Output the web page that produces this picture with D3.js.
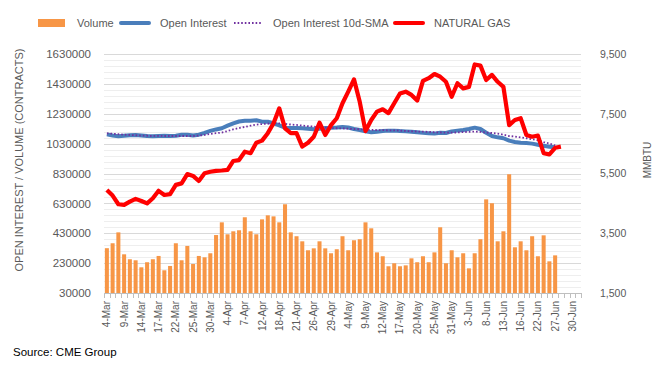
<!DOCTYPE html>
<html>
<head>
<meta charset="utf-8">
<script src="https://cdn.jsdelivr.net/npm/d3@7"></script>
<style>
  body { margin: 0; background: #fff; }
  svg { display: block; font-family: "Liberation Sans", Arial, sans-serif; }
</style>
</head>
<body>
<script>
// trading days, 4-Mar to 1-Jul
var dates = [
  "4-Mar","7-Mar","8-Mar","9-Mar","10-Mar","11-Mar","14-Mar","15-Mar","16-Mar","17-Mar",
  "18-Mar","21-Mar","22-Mar","23-Mar","24-Mar","25-Mar","28-Mar","29-Mar","30-Mar","31-Mar",
  "1-Apr","4-Apr","5-Apr","6-Apr","7-Apr","8-Apr","11-Apr","12-Apr","13-Apr","14-Apr",
  "18-Apr","19-Apr","20-Apr","21-Apr","22-Apr","25-Apr","26-Apr","27-Apr","28-Apr","29-Apr",
  "2-May","3-May","4-May","5-May","6-May","9-May","10-May","11-May","12-May","13-May",
  "16-May","17-May","18-May","19-May","20-May","23-May","24-May","25-May","26-May","27-May",
  "31-May","1-Jun","2-Jun","3-Jun","6-Jun","7-Jun","8-Jun","9-Jun","10-Jun","13-Jun",
  "14-Jun","15-Jun","16-Jun","17-Jun","21-Jun","22-Jun","23-Jun","24-Jun","27-Jun","28-Jun",
  "29-Jun","30-Jun","1-Jul"
];

// volume (contracts)
var volume = [
  330000,363000,436000,289000,256000,249000,202000,236000,256000,278000,
  182000,211000,363000,249000,345000,224000,278000,269000,296000,418000,
  503000,423000,443000,450000,537000,443000,423000,523000,550000,543000,
  503000,624000,436000,410000,376000,316000,329000,376000,329000,296000,
  323000,410000,316000,383000,390000,503000,463000,302000,276000,209000,
  229000,209000,215000,262000,236000,276000,236000,302000,470000,229000,
  316000,269000,296000,195000,296000,390000,657000,631000,376000,443000,
  825000,336000,376000,316000,410000,276000,416000,242000,282000
];

// open interest (contracts)
var openInterest = [
  1092000,1085000,1080000,1083000,1086000,1088000,1085000,1081000,1080000,1081000,
  1082000,1081000,1083000,1089000,1090000,1084000,1090000,1102000,1115000,1125000,
  1133000,1150000,1166000,1178000,1183000,1183000,1186000,1177000,1177000,1165000,
  1152000,1137000,1135000,1135000,1133000,1130000,1126000,1130000,1135000,1136000,
  1138000,1141000,1138000,1128000,1121000,1112000,1106000,1110000,1114000,1117000,
  1117000,1114000,1112000,1110000,1106000,1102000,1099000,1097000,1103000,1101000,
  1112000,1117000,1121000,1128000,1137000,1128000,1103000,1081000,1072000,1066000,
  1050000,1041000,1036000,1034000,1030000,1023000,1016000,1009000,1005000
];

// open interest 10-day simple moving average
var openInterestSma = [
  1099000,1096000,1093000,1090000,1088000,1086000,1084000,1083000,1082000,1082000,
  1081000,1081000,1081000,1081000,1081000,1081000,1084000,1088000,1095000,1100000,
  1104000,1114000,1126000,1134000,1142000,1150000,1157000,1161000,1163000,1165000,
  1166000,1163000,1158000,1155000,1151000,1147000,1144000,1140000,1137000,1134000,
  1133000,1132000,1130000,1128000,1126000,1124000,1122000,1121000,1120000,1119000,
  1119000,1117000,1115000,1113000,1111000,1110000,1109000,1106000,1105000,1103000,
  1103000,1105000,1107000,1109000,1111000,1108000,1104000,1101000,1097000,1090000,
  1081000,1077000,1072000,1066000,1059000,1052000,1040000,1030000,1018000
];

// natural gas price (right axis)
var naturalGas = [
  4950,4760,4470,4450,4560,4650,4580,4500,4670,4920,
  4780,4810,5120,5170,5480,5420,5250,5510,5560,5590,
  5600,5620,5920,5950,6230,6180,6530,6600,6850,7180,
  7680,7010,6850,6850,6400,6530,6730,7200,6790,7120,
  7350,7850,8240,8650,7900,6920,7290,7570,7650,7520,
  7850,8180,8240,8130,7940,8600,8690,8830,8740,8570,
  8070,8520,8350,8400,9150,9110,8630,8800,8570,8400,
  7120,7290,7350,6790,6730,6770,6180,6140,6360,6400
];

var leftTicks = [30000,230000,430000,630000,830000,1030000,1230000,1430000,1630000];
var rightTicks = [1500,3500,5500,7500,9500];

var legendItems = [
  {name: "Volume", type: "rect", color: "#f79646"},
  {name: "Open Interest", type: "line", color: "#4a7ebb"},
  {name: "Open Interest 10d-SMA", type: "dot", color: "#7030a0"},
  {name: "NATURAL GAS", type: "line", color: "#ff0000"}
];

var width = 667, height = 373;
var plot = {left: 104, right: 581, top: 54, bottom: 293};

var svg = d3.select("body").append("svg")
    .attr("width", width)
    .attr("height", height);

// scales
var x = d3.scaleBand()
    .domain(d3.range(dates.length))
    .range([plot.left, plot.right])
    .paddingInner(0.3)
    .paddingOuter(0.15);

var yLeft = d3.scaleLinear()
    .domain([30000, 1630000])
    .range([plot.bottom, plot.top]);

var yRight = d3.scaleLinear()
    .domain([1500, 9500])
    .range([plot.bottom, plot.top]);

function cx(i) { return x(i) + x.bandwidth() / 2; }

// minor gridlines
svg.append("g")
    .selectAll("line")
    .data(d3.range(30000, 1630001, 40000))
    .enter().append("line")
    .attr("x1", plot.left).attr("x2", plot.right)
    .attr("y1", function(d) { return Math.round(yLeft(d)) + 0.5; })
    .attr("y2", function(d) { return Math.round(yLeft(d)) + 0.5; })
    .attr("stroke", "#eeeeee");

// major gridlines
svg.append("g")
    .selectAll("line")
    .data(leftTicks.slice(1))
    .enter().append("line")
    .attr("x1", plot.left).attr("x2", plot.right)
    .attr("y1", function(d) { return Math.round(yLeft(d)) + 0.5; })
    .attr("y2", function(d) { return Math.round(yLeft(d)) + 0.5; })
    .attr("stroke", "#d9d9d9");

// left axis labels
var leftAxis = d3.axisLeft(yLeft)
    .tickValues(leftTicks)
    .tickSize(0)
    .tickPadding(0)
    .tickFormat(d3.format("d"));
var gl = svg.append("g")
    .attr("transform", "translate(91,0)")
    .call(leftAxis);
gl.select(".domain").remove();
gl.selectAll("text")
    .attr("fill", "#595959")
    .style("font-size", "11.5px")
    .style("font-family", "Liberation Sans, Arial, sans-serif");

// right axis labels
var rightAxis = d3.axisRight(yRight)
    .tickValues(rightTicks)
    .tickSize(0)
    .tickPadding(0)
    .tickFormat(d3.format(","));
var gr = svg.append("g")
    .attr("transform", "translate(600,0)")
    .call(rightAxis);
gr.select(".domain").remove();
gr.selectAll("text")
    .attr("fill", "#595959")
    .style("font-size", "10.5px")
    .style("font-family", "Liberation Sans, Arial, sans-serif");

// bars
svg.append("g")
    .selectAll("rect")
    .data(volume)
    .enter().append("rect")
    .attr("x", function(d, i) { return x(i); })
    .attr("width", x.bandwidth())
    .attr("y", function(d) { return yLeft(d); })
    .attr("height", function(d) { return yLeft(30000) - yLeft(d); })
    .attr("fill", "#f79646");

// x axis line + ticks between categories
svg.append("line")
    .attr("x1", plot.left).attr("x2", plot.right)
    .attr("y1", plot.bottom + 0.5).attr("y2", plot.bottom + 0.5)
    .attr("stroke", "#bfbfbf");

svg.append("g")
    .selectAll("line")
    .data(d3.range(dates.length + 1))
    .enter().append("line")
    .attr("x1", function(i) { return Math.round(plot.left + i * x.step()) + 0.5; })
    .attr("x2", function(i) { return Math.round(plot.left + i * x.step()) + 0.5; })
    .attr("y1", plot.bottom)
    .attr("y2", plot.bottom + 5)
    .attr("stroke", "#bfbfbf");

// x labels, every 3rd day
svg.append("g")
    .selectAll("text")
    .data(dates.filter(function(d, i) { return i % 3 === 0; }))
    .enter().append("text")
    .attr("transform", function(d) {
        return "translate(" + (cx(dates.indexOf(d)) + 3.5) + ",301) rotate(-90)";
    })
    .attr("text-anchor", "end")
    .attr("fill", "#595959")
    .style("font-size", "10px")
    .text(function(d) { return d; });

// lines
var oiLine = d3.line()
    .x(function(d, i) { return cx(i); })
    .y(function(d) { return yLeft(d); });

var gasLine = d3.line()
    .x(function(d, i) { return cx(i); })
    .y(function(d) { return yRight(d); });

svg.append("path")
    .datum(openInterest)
    .attr("d", oiLine)
    .attr("fill", "none")
    .attr("stroke", "#4a7ebb")
    .attr("stroke-width", 4)
    .attr("stroke-linejoin", "round");

svg.append("path")
    .datum(openInterestSma)
    .attr("d", oiLine)
    .attr("fill", "none")
    .attr("stroke", "#7030a0")
    .attr("stroke-width", 1.8)
    .attr("stroke-dasharray", "1.6,2");

svg.append("path")
    .datum(naturalGas)
    .attr("d", gasLine)
    .attr("fill", "none")
    .attr("stroke", "#ff0000")
    .attr("stroke-width", 4.2)
    .attr("stroke-linejoin", "round");

// axis titles
svg.append("text")
    .attr("transform", "translate(23,160) rotate(-90)")
    .attr("text-anchor", "middle")
    .attr("fill", "#595959")
    .style("font-size", "11px")
    .text("OPEN INTEREST / VOLUME (CONTRACTS)");

svg.append("text")
    .attr("transform", "translate(651,160) rotate(-90)")
    .attr("text-anchor", "middle")
    .attr("fill", "#595959")
    .style("font-size", "10px")
    .text("MMBTU");

// legend
var legendX = [38, 121, 234, 395];
var legend = svg.append("g");
legendItems.forEach(function(item, i) {
    var g = legend.append("g").attr("transform", "translate(" + legendX[i] + ",23)");
    if (item.type === "rect") {
        g.append("rect").attr("x", 0).attr("y", -4).attr("width", 27).attr("height", 8)
            .attr("fill", item.color);
    } else {
        g.append("line").attr("x1", 0).attr("x2", 28).attr("y1", 0).attr("y2", 0)
            .attr("stroke", item.color)
            .attr("stroke-width", item.type === "dot" ? 1.8 : 4)
            .attr("stroke-linecap", item.type === "dot" ? "butt" : "round")
            .attr("stroke-dasharray", item.type === "dot" ? "1.6,2" : null);
    }
    g.append("text")
        .attr("x", item.type === "rect" ? 39 : 39)
        .attr("y", 4)
        .attr("fill", "#595959")
        .style("font-size", "11px")
        .text(item.name);
});

// source
svg.append("text")
    .attr("x", 13)
    .attr("y", 356)
    .attr("fill", "#000")
    .style("font-size", "11.5px")
    .text("Source: CME Group");
</script>
</body>
</html>
